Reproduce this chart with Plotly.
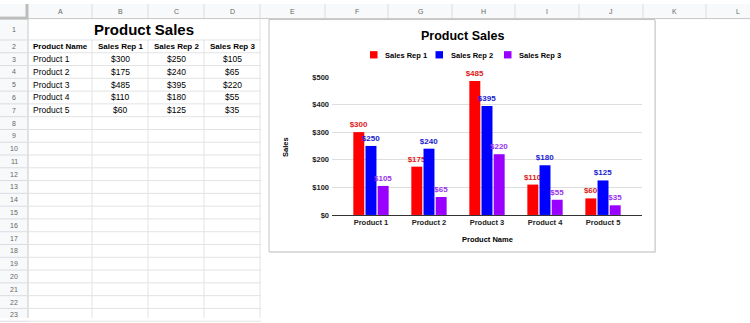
import plotly.graph_objects as go

# ---------------- data ----------------
products = ["Product 1", "Product 2", "Product 3", "Product 4", "Product 5"]
rep1 = [300, 175, 485, 110, 60]
rep2 = [250, 240, 395, 180, 125]
rep3 = [105, 65, 220, 55, 35]
series_names = ["Sales Rep 1", "Sales Rep 2", "Sales Rep 3"]
header_names = ["Product Name", "Sales Rep 1", "Sales Rep 2", "Sales Rep 3"]
title_text = "Product Sales"
col_letters = ["A", "B", "C", "D", "E", "F", "G", "H", "I", "J", "K", "L"]
y_ticks = [0, 100, 200, 300, 400, 500]

# ---------------- styles ----------------
W, H = 750, 323
FONT = "Liberation Sans, Arial, sans-serif"
bar_colors = ["#ff0000", "#0000ff", "#9900ff"]
label_colors = ["#e02020", "#1a1ad0", "#9933ee"]

def X(px):
    return px / W

def Y(py):
    return 1 - py / H

col_bounds = [28, 92, 148, 204, 260, 325, 388, 452, 515, 579, 643, 706, 770]
row_bounds = [15, 37] + [37 + 13.15 * i for i in range(1, 23)]

shapes = []
annotations = []

def line(x0, y0, x1, y1, color, width=1):
    shapes.append(dict(type="line", xref="paper", yref="paper",
                       x0=X(x0), y0=Y(y0), x1=X(x1), y1=Y(y1),
                       line=dict(color=color, width=width), layer="below"))

def rect(x0, y0, x1, y1, fill, lc=None, lw=0):
    shapes.append(dict(type="rect", xref="paper", yref="paper",
                       x0=X(x0), y0=Y(y0), x1=X(x1), y1=Y(y1),
                       fillcolor=fill, line=dict(color=lc or fill, width=lw),
                       layer="below"))

def text(x, y, s, size=9, color="#000", bold=False, xanchor="center", angle=0):
    annotations.append(dict(xref="paper", yref="paper", x=X(x), y=Y(y), text=s,
                            showarrow=False, xanchor=xanchor, yanchor="middle",
                            textangle=angle,
                            font=dict(family=FONT, size=size, color=color,
                                      weight="bold" if bold else "normal")))

# spreadsheet headers
rect(0, 0, W, 15, "#f8f9fa")
rect(0, 15, 28, H, "#f8f9fa")
for cb in col_bounds[1:]:
    line(cb, 0, cb, 15, "#dadce0")
line(0, 15, W, 15, "#c7c7c7")
line(28, 15, 28, H, "#c7c7c7")
line(0, 14.5, 28, 14.5, "#bdbdbd", 3)
line(27, 0, 27, 15, "#bdbdbd", 3)
for i, L in enumerate(col_letters):
    text((col_bounds[i] + col_bounds[i + 1]) / 2, 8, L, size=7, color="#666")
for i in range(23):
    rb0, rb1 = row_bounds[i], row_bounds[i + 1]
    line(0, rb1, 28, rb1, "#dadce0")
    text(14, (rb0 + rb1) / 2, str(i + 1), size=7, color="#666")

# cell grid A-D
for rb in row_bounds[1:]:
    line(28, rb, 261, rb, "#e2e3e3")
for cb in col_bounds[1:4]:
    line(cb, 37, cb, H, "#e2e3e3")
line(260, 15, 260, H, "#e2e3e3")

# table text
text((28 + 260) / 2, 26, title_text, size=15, bold=True)
hy = (row_bounds[1] + row_bounds[2]) / 2
text(31, hy, header_names[0], size=8, bold=True, xanchor="left")
for j in range(1, 4):
    text((col_bounds[j] + col_bounds[j + 1]) / 2, hy, header_names[j], size=8, bold=True)
cols = [rep1, rep2, rep3]
for i, p in enumerate(products):
    ry = (row_bounds[i + 2] + row_bounds[i + 3]) / 2
    text(31, ry, p, size=8.5, xanchor="left")
    for j in range(3):
        text((col_bounds[j + 1] + col_bounds[j + 2]) / 2, ry, f"${cols[j][i]}", size=8.5)

# chart box
rect(270, 17, 656, 256, "#e6e6e6")
rect(269, 16, 655, 255, "#ffffff", "#c4c4c4", 1)

# chart title / legend / axis titles
text(463, 33, title_text, size=12.5, bold=True)
leg_sq = [370, 435.5, 504]
for k, nm in enumerate(series_names):
    rect(leg_sq[k], 48.5, leg_sq[k] + 7.5, 56, bar_colors[k])
    text(leg_sq[k] + 13, 52.5, nm, size=7.5, bold=True, xanchor="left")
text(286, 147, "Sales", size=7.5, bold=True, angle=-90)
text(487, 242, "Product Name", size=7.5, bold=True)

fig = go.Figure()
for k, vals in enumerate(cols):
    fig.add_trace(go.Bar(
        x=products, y=vals, name=series_names[k],
        marker=dict(color=bar_colors[k], line=dict(width=0)),
        text=[f"${v}" for v in vals], textposition="outside",
        textfont=dict(family=FONT, size=8, color=label_colors[k], weight="bold"),
        constraintext="none", cliponaxis=False,
    ))

fig.update_layout(
    width=W, height=H, margin=dict(l=0, r=0, t=0, b=0),
    paper_bgcolor="#ffffff", plot_bgcolor="rgba(0,0,0,0)",
    showlegend=False, barmode="group", bargap=0.37, bargroupgap=0.1,
    shapes=shapes, annotations=annotations,
    xaxis=dict(domain=[X(332), X(642)], type="category",
               range=[-0.672, 4.672], showline=True, linecolor="#333333",
               linewidth=1, showgrid=False, ticks="",
               tickfont=dict(family=FONT, size=7.5, color="#222", weight="bold")),
    yaxis=dict(domain=[Y(217), Y(75)], range=[0, 500], tickvals=y_ticks,
               ticktext=[f"${v}" for v in y_ticks],
               showgrid=True, gridcolor="#dedede",
               zeroline=False, ticks="", ticklabelstandoff=2,
               tickfont=dict(family=FONT, size=7.5, color="#222", weight="bold")),
    font=dict(family=FONT),
)

fig.write_html("out.html")
